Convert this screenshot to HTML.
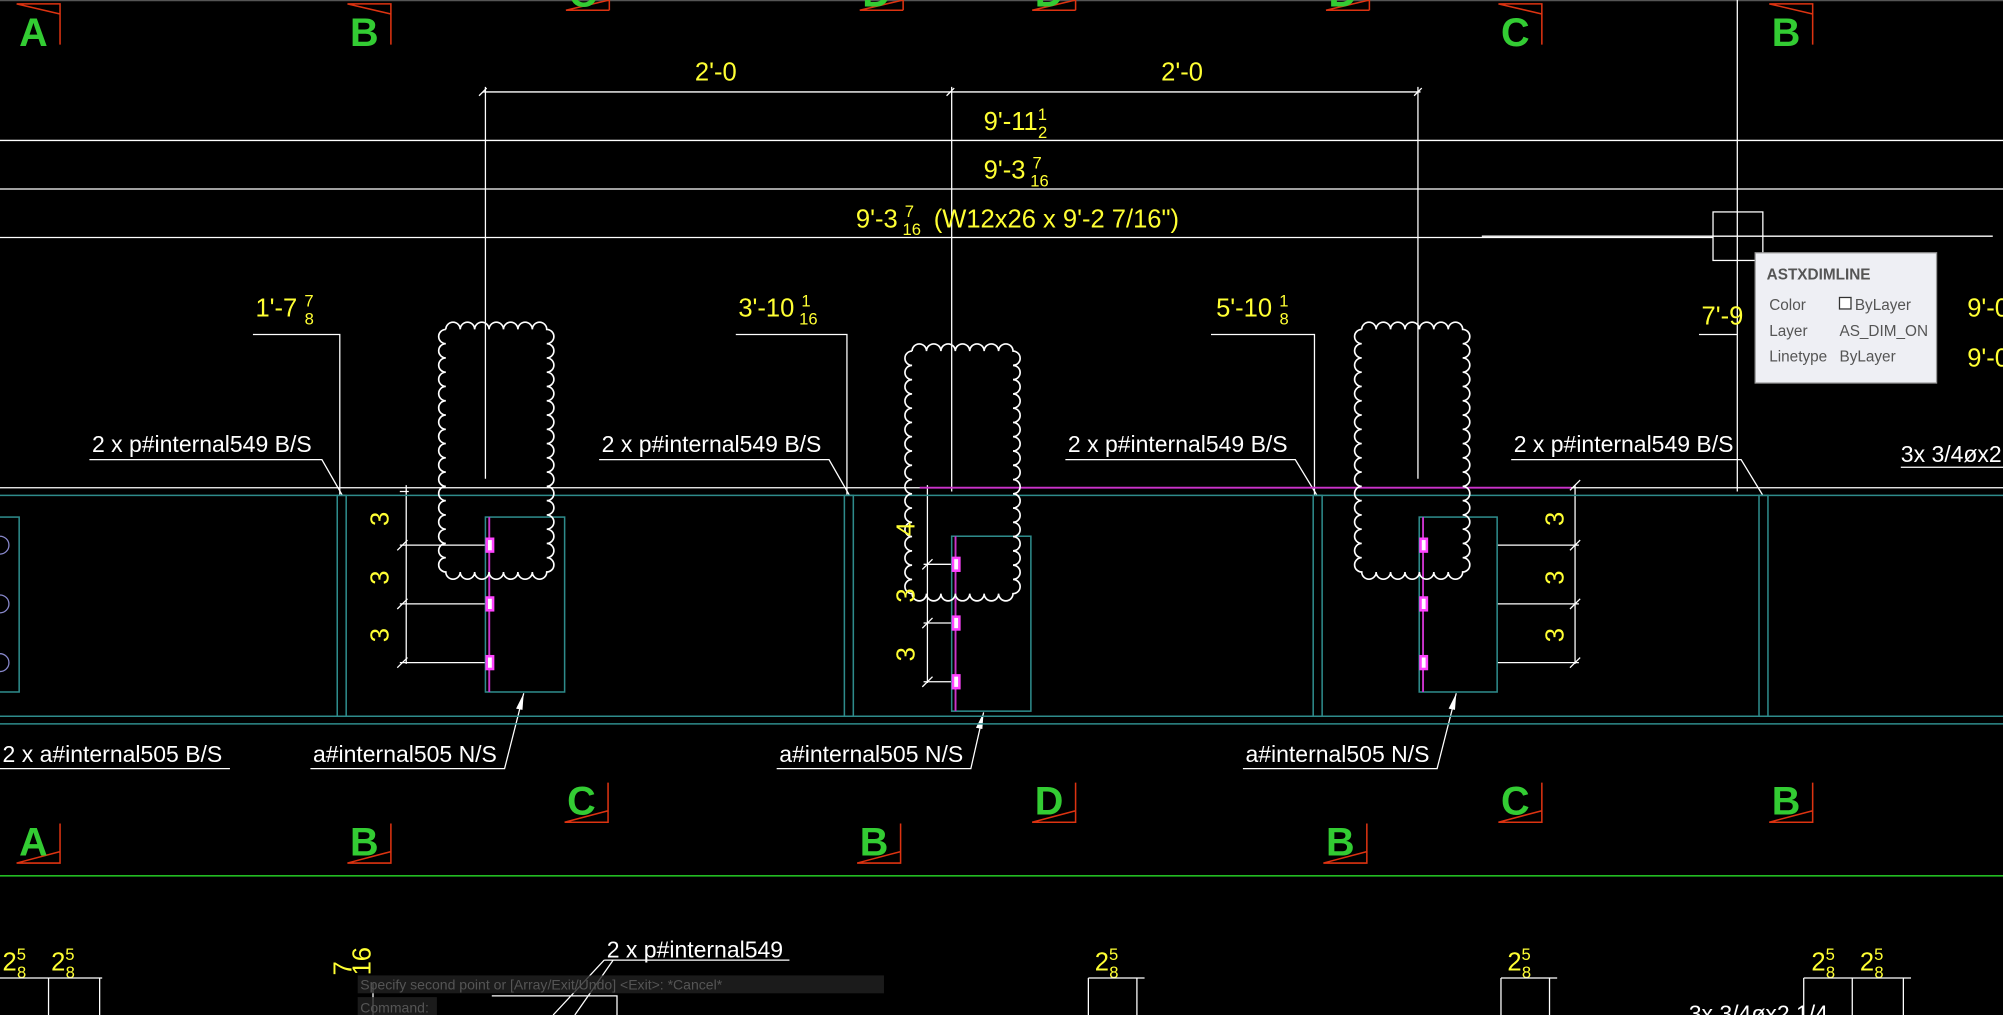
<!DOCTYPE html>
<html><head><meta charset="utf-8"><style>
html,body{margin:0;padding:0;background:#000;overflow:hidden}
svg{display:block}
text{font-family:"Liberation Sans",sans-serif}
.y{fill:#ffff33;font-size:20px}
.w{fill:#fff;font-size:18px}
.g{fill:#33cc33;font-size:31px;font-weight:bold}
</style></head><body>
<svg id="s" width="2003" height="1015" viewBox="0 0 1568 795" preserveAspectRatio="none" xmlns="http://www.w3.org/2000/svg">
<rect width="1568" height="795" fill="#000"/>
<line x1="0" y1="0.5" x2="1568" y2="0.5" stroke="#555"/>
<g stroke="#fff" stroke-width="1" fill="none">
<line x1="378" y1="72" x2="1112" y2="72"/>
<line x1="380" y1="68" x2="380" y2="375"/>
<line x1="745" y1="68" x2="745" y2="385"/>
<line x1="1110" y1="68" x2="1110" y2="375"/>
<path d="M375 75l6-6M741 75l6-6M1107 75l6-6"/>
<line x1="0" y1="110" x2="1568" y2="110"/>
<line x1="0" y1="148" x2="1568" y2="148"/>
<line x1="0" y1="186" x2="1341" y2="186"/>
<line x1="1160" y1="185" x2="1560" y2="185"/>
<line x1="1360" y1="0" x2="1360" y2="385"/>
<rect x="1341" y="166" width="39" height="38"/>
<path d="M198 262h68v126M576 262h87v126M948 262h81v126M1330 262h30"/>
<path d="M70 360h182l16 28M469 360h180l16 28M834 360h180l17 28M1183 360h180l17 28M1488 366h80"/>
<line x1="0" y1="382" x2="1568" y2="382"/>
<path d="M243 602h152l15-59M608 602h152l10-44M973 602h152l15-59M0 602h180"/>
<path d="M318 380v140M313 427h67M313 473h67M313 519h67M313 385h7M726 380v155M723 442h22M723 488h22M723 534h22M1233 380v140M1172 427h64M1172 473h64M1172 519h64"/>
<path d="M311 431l8-8M311 477l8-8M311 523l8-8M722 446l8-8M722 492l8-8M722 538l8-8M1229 431l8-8M1229 477l8-8M1229 523l8-8M1229 384l8-8"/>
</g>
<g fill="#fff"><path d="M410 543l-6 12 5 1z M770 558l-6 12 5 1z M1140 543l-6 12 5 1z"/></g>
<line x1="720" y1="382" x2="1230" y2="382" stroke="#cc33cc" stroke-width="1.5"/>
<g stroke="#2e8b8b" fill="none" stroke-width="1.2">
<line x1="0" y1="388" x2="1568" y2="388"/>
<line x1="0" y1="561" x2="1568" y2="561"/>
<line x1="0" y1="567" x2="1568" y2="567"/>
<rect x="264" y="388" width="7" height="173"/><rect x="661" y="388" width="7" height="173"/>
<rect x="1028" y="388" width="7" height="173"/><rect x="1377" y="388" width="7" height="173"/>
<rect x="380" y="405" width="62" height="137"/><rect x="745" y="420" width="62" height="137"/><rect x="1111" y="405" width="61" height="137"/>
<rect x="-2" y="405" width="17" height="137"/>
</g>
<g stroke="#cc33cc" stroke-width="1.5"><line x1="383" y1="405" x2="383" y2="542"/><line x1="748" y1="420" x2="748" y2="557"/><line x1="1114" y1="405" x2="1114" y2="542"/></g>
<g fill="#fff" stroke="#ff44ff" stroke-width="2">
<rect x="381" y="422" width="5" height="10"/><rect x="381" y="468" width="5" height="10"/><rect x="381" y="514" width="5" height="10"/>
<rect x="746" y="437" width="5" height="10"/><rect x="746" y="483" width="5" height="10"/><rect x="746" y="529" width="5" height="10"/>
<rect x="1112" y="422" width="5" height="10"/><rect x="1112" y="468" width="5" height="10"/><rect x="1112" y="514" width="5" height="10"/>
</g>
<g fill="none" stroke="#8888cc"><circle cx="0" cy="427" r="7"/><circle cx="0" cy="473" r="7"/><circle cx="0" cy="519" r="7"/></g>
<g id="clouds" stroke="#fff" fill="none" stroke-width="1.3"></g>
<g id="marks" stroke="#dd3311" fill="none" stroke-width="1.2"></g>
<line x1="0" y1="686" x2="1568" y2="686" stroke="#22bb22" stroke-width="1.3"/>
<text class="y" x="544" y="63">2'-0</text><text class="y" x="909" y="63">2'-0</text>
<text class="y" x="770" y="102">9'-11<tspan font-size="13" dy="-8">1</tspan><tspan font-size="13" dx="-7" dy="14">2</tspan></text>
<text class="y" x="770" y="140">9'-3 <tspan font-size="13" dy="-8">7</tspan><tspan font-size="13" dx="-9" dy="14">16</tspan></text>
<text class="y" x="670" y="178">9'-3 <tspan font-size="13" dy="-8">7</tspan><tspan font-size="13" dx="-9" dy="14">16</tspan><tspan dx="10" dy="-6">(W12x26 x 9'-2 7/16")</tspan></text>
<text class="y" x="200" y="248">1'-7 <tspan font-size="13" dy="-8">7</tspan><tspan font-size="13" dx="-7" dy="14">8</tspan></text>
<text class="y" x="578" y="248">3'-10 <tspan font-size="13" dy="-8">1</tspan><tspan font-size="13" dx="-9" dy="14">16</tspan></text>
<text class="y" x="952" y="248">5'-10 <tspan font-size="13" dy="-8">1</tspan><tspan font-size="13" dx="-7" dy="14">8</tspan></text>
<text class="y" x="1332" y="254">7'-9</text>
<text class="y" x="1540" y="248">9'-0</text><text class="y" x="1540" y="287">9'-0</text>
<text class="w" x="72" y="354">2 x p#internal549 B/S</text><text class="w" x="471" y="354">2 x p#internal549 B/S</text>
<text class="w" x="836" y="354">2 x p#internal549 B/S</text><text class="w" x="1185" y="354">2 x p#internal549 B/S</text>
<text class="w" x="1488" y="362">3x 3/4øx2</text>
<text class="w" x="245" y="597">a#internal505 N/S</text><text class="w" x="610" y="597">a#internal505 N/S</text>
<text class="w" x="975" y="597">a#internal505 N/S</text><text class="w" x="2" y="597">2 x a#internal505 B/S</text>
<g class="y" font-size="18">
<text transform="translate(304,412) rotate(-90)" class="y">3</text><text transform="translate(304,458) rotate(-90)" class="y">3</text><text transform="translate(304,503) rotate(-90)" class="y">3</text>
<text transform="translate(716,420) rotate(-90)" class="y">4</text><text transform="translate(716,472) rotate(-90)" class="y">3</text><text transform="translate(716,518) rotate(-90)" class="y">3</text>
<text transform="translate(1224,412) rotate(-90)" class="y">3</text><text transform="translate(1224,458) rotate(-90)" class="y">3</text><text transform="translate(1224,503) rotate(-90)" class="y">3</text>
</g>
<rect x="1374" y="198" width="142" height="102" fill="#eeeff4" stroke="#999"/>
<g font-family="Liberation Sans" font-size="12" fill="#555">
<text x="1383" y="219" font-weight="bold" font-size="12">ASTXDIMLINE</text>
<text x="1385" y="243">Color</text><text x="1385" y="263">Layer</text><text x="1385" y="283">Linetype</text>
<rect x="1440" y="233" width="9" height="9" fill="#fff" stroke="#333"/>
<text x="1452" y="243">ByLayer</text><text x="1440" y="263">AS_DIM_ON</text><text x="1440" y="283">ByLayer</text>
</g>
<g class="y">
<text x="2" y="760" class="y">2<tspan font-size="13" dy="-8">5</tspan><tspan font-size="13" dx="-7" dy="14">8</tspan></text>
<text x="40" y="760" class="y">2<tspan font-size="13" dy="-8">5</tspan><tspan font-size="13" dx="-7" dy="14">8</tspan></text>
<text x="857" y="760" class="y">2<tspan font-size="13" dy="-8">5</tspan><tspan font-size="13" dx="-7" dy="14">8</tspan></text>
<text x="1180" y="760" class="y">2<tspan font-size="13" dy="-8">5</tspan><tspan font-size="13" dx="-7" dy="14">8</tspan></text>
<text x="1418" y="760" class="y">2<tspan font-size="13" dy="-8">5</tspan><tspan font-size="13" dx="-7" dy="14">8</tspan></text>
<text x="1456" y="760" class="y">2<tspan font-size="13" dy="-8">5</tspan><tspan font-size="13" dx="-7" dy="14">8</tspan></text>
<text transform="translate(275,764) rotate(-90)" class="y" font-size="13">7</text><text transform="translate(290,764) rotate(-90)" class="y" font-size="13">16</text>
</g>
<g stroke="#fff" fill="none">
<path d="M0 766h80M38 766v29M78 766v29M852 766h44M852 766v29M890 766v29M1175 766h44M1175 766v29M1213 766v29M1412 766h84M1412 766v29M1450 766v29M1490 766v29M473 752h145M473 752l-40 43M480 752l-30 43M385 780h98v15M292 770v25"/>
</g>
<text class="w" x="475" y="750">2 x p#internal549</text>
<text class="w" x="1322" y="800" font-size="16">3x 3/4øx2 1/4</text>
<rect x="280" y="764" width="412" height="14" fill="#222" opacity="0.8"/>
<text x="282" y="775" font-family="Liberation Mono" font-size="11" fill="#555">Specify second point or [Array/Exit/Undo] &lt;Exit&gt;: *Cancel*</text>
<rect x="280" y="781" width="62" height="14" fill="#222" opacity="0.8"/>
<text x="282" y="793" font-family="Liberation Mono" font-size="11" fill="#555">Command:</text>
<g id="letters"></g>
</svg>
<script>
var ns="http://www.w3.org/2000/svg";
function cloud(x1,y1,x2,y2){var w=x2-x1,h=y2-y1;
 var nx=Math.round(w/11),ny=Math.round(h/11),sx=w/nx,sy=h/ny,p="M"+x1+" "+y1;
 for(var i=0;i<nx;i++)p+=" a"+sx/2+" "+sx/2+" 0 0 1 "+sx+" 0";
 for(i=0;i<ny;i++)p+=" a"+sy/2+" "+sy/2+" 0 0 1 0 "+sy;
 for(i=0;i<nx;i++)p+=" a"+sx/2+" "+sx/2+" 0 0 1 "+(-sx)+" 0";
 for(i=0;i<ny;i++)p+=" a"+sy/2+" "+sy/2+" 0 0 1 0 "+(-sy);
 var e=document.createElementNS(ns,"path");e.setAttribute("d",p);document.getElementById("clouds").appendChild(e);}
cloud(349,258,428,448);cloud(714,275,793,465);cloud(1066,258,1145,448);
// [letter,x,y,top-style]
var L=[["A",15,36,1],["B",274,36,1],["C",445,5,2],["D",675,5,2],["D",810,5,2],["D",1040,5,2],["C",1175,36,1],["B",1387,36,1],
["C",444,638,0],["D",810,638,0],["C",1175,638,0],["B",1387,638,0],["A",15,670,0],["B",274,670,0],["B",673,670,0],["B",1038,670,0]];
L.forEach(function(a){var t=document.createElementNS(ns,"text");t.setAttribute("x",a[1]);t.setAttribute("y",a[2]);
 t.setAttribute("class","g");t.textContent=a[0];document.getElementById("letters").appendChild(t);
 var p=document.createElementNS(ns,"path");var bx=a[1]+32,by=a[2]+6,d;
 if(a[3]==1){d="M"+(bx-34)+" 3H"+bx+"V"+(a[2]-1)+"M"+(bx-34)+" 3L"+bx+" 11";}
 else if(a[3]==2){d="M"+(bx-34)+" 8L"+bx+" 0M"+bx+" 0V"+8+"M"+(bx-34)+" 8H"+bx;}
 else {d="M"+bx+" "+(by-31)+"V"+by+"H"+(bx-34)+"L"+bx+" "+(by-9);}
 p.setAttribute("d",d);document.getElementById("marks").appendChild(p);});
</script>
</body></html>
